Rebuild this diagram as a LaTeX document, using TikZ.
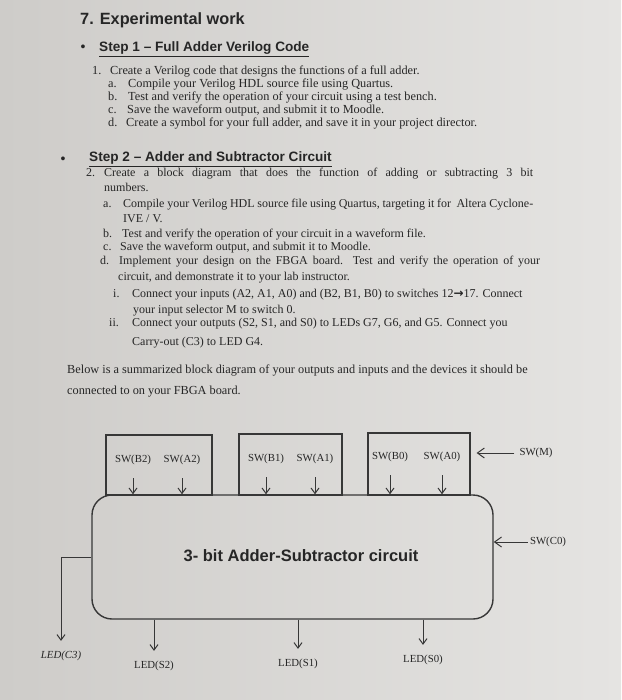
\documentclass[tikz,border=0pt]{standalone}
\usepackage{fontspec}
\setmainfont{Liberation Serif}
\setsansfont{Liberation Sans}
\newfontfamily\arrowfont{DejaVu Sans}
\usetikzlibrary{arrows.meta}
\definecolor{paperleft}{RGB}{206,204,201}
\definecolor{paperright}{RGB}{229,228,226}
\definecolor{ink}{RGB}{38,38,38}
\definecolor{wire}{RGB}{55,55,55}
\newcommand{\bodyfont}{\fontsize{12.3}{14}\selectfont}
\newcommand{\stepfont}{\fontsize{12}{14}\selectfont}
\newcommand{\pinfont}{\fontsize{10.8}{12}\selectfont}
\begin{document}
\begin{tikzpicture}[x=1pt,y=-1pt]
    % Define the styles for the texts, boxes and arrows
    \tikzstyle{line}=[anchor=base west, inner sep=0pt, text=ink, font=\bodyfont]
    \tikzstyle{stepline}=[line, font=\stepfont]
    \tikzstyle{heading}=[anchor=base west, inner sep=0pt, text=ink, font=\sffamily\bfseries\fontsize{13.6}{15}\selectfont]
    \tikzstyle{dot}=[inner sep=0pt, text=ink, font=\sffamily\fontsize{14}{14}\selectfont]
    \tikzstyle{switches}=[draw=wire, line width=2.5pt, inner sep=0pt]
    \tikzstyle{block}=[draw=wire, line width=1.4pt, rounded corners=20pt, minimum width=401pt, minimum height=124pt]
    \tikzstyle{pin}=[inner sep=2pt, text=ink, font=\pinfont]
    \tikzstyle{arrow}=[draw=wire, line width=1pt, -{Straight Barb[length=5.5pt,width=8pt]}]
    \tikzstyle{longarrow}=[draw=wire, line width=1pt, -{Straight Barb[length=7pt,width=10pt]}]

    % Draw the paper
    \shade[left color=paperleft, right color=paperright] (0,0) rectangle (621,700);
    \useasboundingbox (0,0) rectangle (621,700);

    % Draw the step 1 text
    \node[heading, font=\sffamily\bfseries\fontsize{16.3}{18}\selectfont] (work) at (80, 25) {7. Experimental work};
    \node[dot] (dot1) at (83, 48) {\textbullet};
    \node[heading] (step1) at (99, 52) {\underline{Step 1 – Full Adder Verilog Code}};
    \node[line] (n1) at (92, 75) {1.};
    \node[line] (n1t) at (110, 75) {Create a Verilog code that designs the functions of a full adder.};
    \node[line] (n1a) at (108, 88) {a.};
    \node[line] (n1at) at (128, 88) {Compile your Verilog HDL source file using Quartus.};
    \node[line] (n1b) at (108, 101) {b.};
    \node[line] (n1bt) at (128, 101) {Test and verify the operation of your circuit using a test bench.};
    \node[line] (n1c) at (108, 114) {c.};
    \node[line] (n1ct) at (127, 114) {Save the waveform output, and submit it to Moodle.};
    \node[line] (n1d) at (108, 127) {d.};
    \node[line] (n1dt) at (126, 127) {Create a symbol for your full adder, and save it in your project director.};

    % Draw the step 2 text
    \node[dot] (dot2) at (63, 160) {\textbullet};
    \node[heading] (step2) at (89, 162) {\underline{Step 2 – Adder and Subtractor Circuit}};
    \node[stepline] (n2) at (86, 177) {2.};
    \node[stepline] (n2t) at (104, 177) {\makebox[429pt][s]{Create a block diagram that does the function of adding or subtracting 3 bit}};
    \node[stepline] (n2t2) at (104, 192) {numbers.};
    \node[stepline] (n2a) at (103, 208) {a.};
    \node[stepline] (n2at) at (123, 208) {\makebox[410pt][s]{Compile your Verilog HDL source file using Quartus, targeting it for \ Altera Cyclone-}};
    \node[stepline] (n2at2) at (123, 223) {IVE / V.};
    \node[stepline] (n2b) at (103, 237) {b.};
    \node[stepline] (n2bt) at (122, 237) {Test and verify the operation of your circuit in a waveform file.};
    \node[stepline] (n2c) at (103, 251) {c.};
    \node[stepline] (n2ct) at (120, 251) {Save the waveform output, and submit it to Moodle.};
    \node[stepline] (n2d) at (100, 264) {d.};
    \node[stepline] (n2dt) at (119, 264) {\makebox[421pt][s]{Implement your design on the FBGA board. Test and verify the operation of your}};
    \node[stepline] (n2dt2) at (118, 280) {circuit, and demonstrate it to your lab instructor.};
    \node[stepline] (n2i) at (113, 297) {i.};
    \node[stepline] (n2it) at (132, 297) {Connect your inputs (A2, A1, A0) and (B2, B1, B0) to switches 12{\arrowfont\bfseries →}17. Connect};
    \node[stepline] (n2it2) at (133, 313) {your input selector M to switch 0.};
    \node[stepline] (n2ii) at (109, 326) {ii.};
    \node[stepline] (n2iit) at (132, 326) {Connect your outputs (S2, S1, and S0) to LEDs G7, G6, and G5. Connect you};
    \node[stepline] (n2iit2) at (132, 345) {Carry-out (C3) to LED G4.};
    \node[line] (below) at (67, 373) {Below is a summarized block diagram of your outputs and inputs and the devices it should be};
    \node[line] (below2) at (67, 394) {connected to on your FBGA board.};

    % Draw the blocks
    \node[switches, minimum width=106pt, minimum height=60pt] (sw2) at (159, 465) {};
    \node[switches, minimum width=103pt, minimum height=61pt] (sw1) at (290.5, 464.5) {};
    \node[switches, minimum width=102pt, minimum height=62pt, line width=1.1pt] (sw0) at (419, 464) {};
    \node[block] (adder) at (292.5, 557) {};
    \node[text=ink, font=\sffamily\bfseries\fontsize{16.5}{18}\selectfont] (name) at (301, 556) {3- bit Adder-Subtractor circuit};

    % Draw the inputs
    \node[pin] (swb2) at (133, 460) {SW(B2)};
    \node[pin] (swa2) at (182, 460) {SW(A2)};
    \node[pin] (swb1) at (266, 459) {SW(B1)};
    \node[pin] (swa1) at (315, 459) {SW(A1)};
    \node[pin] (swb0) at (390, 457) {SW(B0)};
    \node[pin] (swa0) at (442, 457) {SW(A0)};
    \node[pin] (swm) at (536, 453) {SW(M)};
    \node[pin] (swc0) at (548, 542) {SW(C0)};

    % Draw the outputs
    \node[pin, font=\pinfont\itshape] (ledc3) at (61, 656) {LED(C3)};
    \node[pin] (leds2) at (154, 666) {LED(S2)};
    \node[pin] (leds1) at (298, 664) {LED(S1)};
    \node[pin] (leds0) at (423, 660) {LED(S0)};

    % Draw the arrows into the block
    \draw[arrow] ([yshift=-11pt]swb2.south) -- (swb2.south |- adder.north);
    \draw[arrow] ([yshift=-11pt]swa2.south) -- (swa2.south |- adder.north);
    \draw[arrow] ([yshift=-11pt]swb1.south) -- (swb1.south |- adder.north);
    \draw[arrow] ([yshift=-11pt]swa1.south) -- (swa1.south |- adder.north);
    \draw[arrow] ([yshift=-11pt]swb0.south) -- (swb0.south |- adder.north);
    \draw[arrow] ([yshift=-11pt]swa0.south) -- (swa0.south |- adder.north);
    \draw[longarrow] ([xshift=-3pt]swm.west) -- ([xshift=6pt]sw0.east |- swm.west);
    \draw[longarrow] (swc0.west) -- (adder.east |- swc0.west);

    % Draw the arrows out of the block
    \draw[arrow] (adder.west) -| ([yshift=8pt]ledc3.north);
    \draw[arrow] (adder.south -| leds2) -- ([yshift=8pt]leds2.north);
    \draw[arrow] (adder.south -| leds1) -- ([yshift=8pt]leds1.north);
    \draw[arrow] (adder.south -| leds0) -- ([yshift=8pt]leds0.north);
\end{tikzpicture}
\end{document}
